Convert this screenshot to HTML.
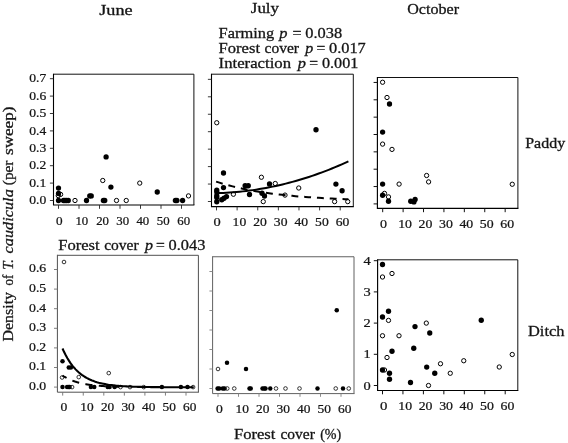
<!DOCTYPE html>
<html><head><meta charset="utf-8"><title>Figure</title>
<style>
html,body{margin:0;padding:0;background:#fff;}
svg{display:block;}
text{font-family:"Liberation Serif", serif;fill:#151515;stroke:#151515;stroke-width:0.28px;}
text.s{stroke-width:0.24px;}
</style></head><body>
<svg width="568" height="443" viewBox="0 0 568 443">
<rect width="568" height="443" fill="#fff"/>
<text x="99.20" y="14.50" font-size="13.8" textLength="33.40" lengthAdjust="spacingAndGlyphs">June</text>
<text x="250.80" y="12.50" font-size="13.8" textLength="28.20" lengthAdjust="spacingAndGlyphs">July</text>
<text x="407.20" y="14.20" font-size="13.8" textLength="51.80" lengthAdjust="spacingAndGlyphs">October</text>
<text x="218.60" y="37.60" font-size="14" textLength="55.60" lengthAdjust="spacingAndGlyphs">Farming</text>
<text x="279.20" y="37.60" font-size="14" textLength="8.20" lengthAdjust="spacingAndGlyphs" font-style="italic">p</text>
<text x="292.60" y="37.60" font-size="14" textLength="9.00" lengthAdjust="spacingAndGlyphs">=</text>
<text x="305.30" y="37.60" font-size="14" textLength="36.90" lengthAdjust="spacingAndGlyphs">0.038</text>
<text x="218.60" y="52.70" font-size="14" textLength="41.40" lengthAdjust="spacingAndGlyphs">Forest</text>
<text x="264.60" y="52.70" font-size="14" textLength="34.40" lengthAdjust="spacingAndGlyphs">cover</text>
<text x="305.30" y="52.70" font-size="14" textLength="8.00" lengthAdjust="spacingAndGlyphs" font-style="italic">p</text>
<text x="316.40" y="52.70" font-size="14" textLength="8.80" lengthAdjust="spacingAndGlyphs">=</text>
<text x="329.00" y="52.70" font-size="14" textLength="36.80" lengthAdjust="spacingAndGlyphs">0.017</text>
<text x="218.60" y="68.30" font-size="14" textLength="72.40" lengthAdjust="spacingAndGlyphs">Interaction</text>
<text x="297.70" y="68.30" font-size="14" textLength="8.20" lengthAdjust="spacingAndGlyphs" font-style="italic">p</text>
<text x="309.20" y="68.30" font-size="14" textLength="8.80" lengthAdjust="spacingAndGlyphs">=</text>
<text x="322.00" y="68.30" font-size="14" textLength="36.30" lengthAdjust="spacingAndGlyphs">0.001</text>
<text x="58.20" y="250.40" font-size="14" textLength="41.40" lengthAdjust="spacingAndGlyphs">Forest</text>
<text x="104.20" y="250.40" font-size="14" textLength="34.40" lengthAdjust="spacingAndGlyphs">cover</text>
<text x="144.90" y="250.40" font-size="14" textLength="8.00" lengthAdjust="spacingAndGlyphs" font-style="italic">p</text>
<text x="156.00" y="250.40" font-size="14" textLength="8.80" lengthAdjust="spacingAndGlyphs">=</text>
<text x="168.60" y="250.40" font-size="14" textLength="36.80" lengthAdjust="spacingAndGlyphs">0.043</text>
<text x="234.00" y="438.60" font-size="14" textLength="41.40" lengthAdjust="spacingAndGlyphs">Forest</text>
<text x="280.40" y="438.60" font-size="14" textLength="34.40" lengthAdjust="spacingAndGlyphs">cover</text>
<text x="320.20" y="438.60" font-size="14" textLength="21.10" lengthAdjust="spacingAndGlyphs">(%)</text>
<text x="525.20" y="148.30" font-size="14" textLength="40.00" lengthAdjust="spacingAndGlyphs">Paddy</text>
<text x="528.00" y="336.00" font-size="14" textLength="36.50" lengthAdjust="spacingAndGlyphs">Ditch</text>
<g transform="translate(12.6 341.2) rotate(-90)">
<text x="-0.40" y="0.00" font-size="14" textLength="49.70" lengthAdjust="spacingAndGlyphs">Density</text>
<text x="55.80" y="0.00" font-size="14" textLength="10.80" lengthAdjust="spacingAndGlyphs">of</text>
<text x="71.40" y="0.00" font-size="14" textLength="10.80" lengthAdjust="spacingAndGlyphs" font-style="italic">T.</text>
<text x="87.80" y="0.00" font-size="14" textLength="64.20" lengthAdjust="spacingAndGlyphs" font-style="italic">caudicula</text>
<text x="156.00" y="0.00" font-size="14" textLength="24.60" lengthAdjust="spacingAndGlyphs">(per</text>
<text x="186.30" y="0.00" font-size="14" textLength="48.30" lengthAdjust="spacingAndGlyphs">sweep)</text>
</g>
<path d="M53.50 74.20H193.90V205.00" fill="none" stroke="#111" stroke-width="1.0"/>
<path d="M53.50 73.70V205.00H194.40" fill="none" stroke="#000" stroke-width="1.1"/>
<path d="M53.50 200.50h-3.6 M53.50 183.10h-3.6 M53.50 165.70h-3.6 M53.50 148.30h-3.6 M53.50 130.90h-3.6 M53.50 113.50h-3.6 M53.50 96.10h-3.6 M53.50 78.70h-3.6" stroke="#222" stroke-width="0.9" fill="none"/>
<text x="29.20" y="204.20" font-size="12.5" textLength="17.00" lengthAdjust="spacingAndGlyphs" class="s">0.0</text>
<text x="29.20" y="186.80" font-size="12.5" textLength="17.00" lengthAdjust="spacingAndGlyphs" class="s">0.1</text>
<text x="29.20" y="169.40" font-size="12.5" textLength="17.00" lengthAdjust="spacingAndGlyphs" class="s">0.2</text>
<text x="29.20" y="152.00" font-size="12.5" textLength="17.00" lengthAdjust="spacingAndGlyphs" class="s">0.3</text>
<text x="29.20" y="134.60" font-size="12.5" textLength="17.00" lengthAdjust="spacingAndGlyphs" class="s">0.4</text>
<text x="29.20" y="117.20" font-size="12.5" textLength="17.00" lengthAdjust="spacingAndGlyphs" class="s">0.5</text>
<text x="29.20" y="99.80" font-size="12.5" textLength="17.00" lengthAdjust="spacingAndGlyphs" class="s">0.6</text>
<text x="29.20" y="82.40" font-size="12.5" textLength="17.00" lengthAdjust="spacingAndGlyphs" class="s">0.7</text>
<path d="M58.50 205.00v3.8 M79.00 205.00v3.8 M99.50 205.00v3.8 M120.00 205.00v3.8 M140.50 205.00v3.8 M161.00 205.00v3.8 M181.50 205.00v3.8" stroke="#222" stroke-width="0.9" fill="none"/>
<text x="56.00" y="225.00" font-size="12.5" textLength="6.60" lengthAdjust="spacingAndGlyphs" class="s">0</text>
<text x="75.40" y="225.00" font-size="12.5" textLength="12.80" lengthAdjust="spacingAndGlyphs" class="s">10</text>
<text x="96.20" y="225.00" font-size="12.5" textLength="12.80" lengthAdjust="spacingAndGlyphs" class="s">20</text>
<text x="116.30" y="225.00" font-size="12.5" textLength="12.80" lengthAdjust="spacingAndGlyphs" class="s">30</text>
<text x="136.40" y="225.00" font-size="12.5" textLength="12.80" lengthAdjust="spacingAndGlyphs" class="s">40</text>
<text x="156.80" y="225.00" font-size="12.5" textLength="12.80" lengthAdjust="spacingAndGlyphs" class="s">50</text>
<text x="177.30" y="225.00" font-size="12.5" textLength="12.80" lengthAdjust="spacingAndGlyphs" class="s">60</text>
<circle cx="106.10" cy="156.90" r="2.65" fill="#000"/>
<circle cx="102.75" cy="180.50" r="2.15" fill="none" stroke="#000" stroke-width="1.0"/>
<circle cx="110.90" cy="187.10" r="2.65" fill="#000"/>
<circle cx="58.50" cy="188.10" r="2.65" fill="#000"/>
<circle cx="58.50" cy="193.50" r="2.65" fill="#000"/>
<circle cx="58.25" cy="195.60" r="2.15" fill="none" stroke="#000" stroke-width="1.0"/>
<circle cx="60.60" cy="194.40" r="2.15" fill="none" stroke="#000" stroke-width="1.0"/>
<circle cx="89.75" cy="195.90" r="2.65" fill="#000"/>
<circle cx="91.25" cy="195.90" r="2.65" fill="#000"/>
<circle cx="58.50" cy="200.50" r="2.65" fill="#000"/>
<circle cx="63.50" cy="200.50" r="2.65" fill="#000"/>
<circle cx="65.00" cy="200.50" r="2.65" fill="#000"/>
<circle cx="66.60" cy="200.50" r="2.65" fill="#000"/>
<circle cx="68.25" cy="200.50" r="2.65" fill="#000"/>
<circle cx="75.00" cy="200.50" r="2.15" fill="none" stroke="#000" stroke-width="1.0"/>
<circle cx="86.50" cy="200.50" r="2.65" fill="#000"/>
<circle cx="103.40" cy="200.50" r="2.65" fill="#000"/>
<circle cx="104.75" cy="200.50" r="2.65" fill="#000"/>
<circle cx="116.50" cy="200.50" r="2.15" fill="none" stroke="#000" stroke-width="1.0"/>
<circle cx="126.25" cy="200.50" r="2.15" fill="none" stroke="#000" stroke-width="1.0"/>
<circle cx="139.75" cy="183.10" r="2.15" fill="none" stroke="#000" stroke-width="1.0"/>
<circle cx="157.25" cy="192.00" r="2.65" fill="#000"/>
<circle cx="175.40" cy="200.50" r="2.65" fill="#000"/>
<circle cx="176.90" cy="200.50" r="2.65" fill="#000"/>
<circle cx="182.60" cy="200.50" r="2.65" fill="#000"/>
<circle cx="188.50" cy="195.90" r="2.15" fill="none" stroke="#000" stroke-width="1.0"/>
<path d="M211.50 74.20H353.30V206.60" fill="none" stroke="#111" stroke-width="1.0"/>
<path d="M211.50 73.70V206.60H353.80" fill="none" stroke="#000" stroke-width="1.1"/>
<path d="M211.50 201.50h-3.6 M211.50 184.05h-3.6 M211.50 166.60h-3.6 M211.50 149.15h-3.6 M211.50 131.70h-3.6 M211.50 114.25h-3.6 M211.50 96.80h-3.6 M211.50 79.35h-3.6" stroke="#222" stroke-width="0.9" fill="none"/>
<path d="M216.50 206.60v3.8 M237.12 206.60v3.8 M257.74 206.60v3.8 M278.36 206.60v3.8 M298.98 206.60v3.8 M319.60 206.60v3.8 M340.22 206.60v3.8" stroke="#222" stroke-width="0.9" fill="none"/>
<text x="213.60" y="226.00" font-size="12.5" textLength="7.20" lengthAdjust="spacingAndGlyphs" class="s">0</text>
<text x="232.62" y="226.00" font-size="12.5" textLength="13.60" lengthAdjust="spacingAndGlyphs" class="s">10</text>
<text x="253.24" y="226.00" font-size="12.5" textLength="13.60" lengthAdjust="spacingAndGlyphs" class="s">20</text>
<text x="273.86" y="226.00" font-size="12.5" textLength="13.60" lengthAdjust="spacingAndGlyphs" class="s">30</text>
<text x="294.48" y="226.00" font-size="12.5" textLength="13.60" lengthAdjust="spacingAndGlyphs" class="s">40</text>
<text x="315.10" y="226.00" font-size="12.5" textLength="13.60" lengthAdjust="spacingAndGlyphs" class="s">50</text>
<text x="335.72" y="226.00" font-size="12.5" textLength="13.60" lengthAdjust="spacingAndGlyphs" class="s">60</text>
<circle cx="223.50" cy="173.00" r="2.65" fill="#000"/>
<circle cx="261.40" cy="177.25" r="2.15" fill="none" stroke="#000" stroke-width="1.0"/>
<circle cx="269.50" cy="183.90" r="2.65" fill="#000"/>
<circle cx="275.25" cy="183.50" r="2.15" fill="none" stroke="#000" stroke-width="1.0"/>
<circle cx="245.10" cy="185.75" r="2.65" fill="#000"/>
<circle cx="248.25" cy="185.75" r="2.65" fill="#000"/>
<circle cx="223.50" cy="187.60" r="2.65" fill="#000"/>
<circle cx="216.75" cy="190.10" r="2.65" fill="#000"/>
<circle cx="216.75" cy="192.00" r="2.65" fill="#000"/>
<circle cx="249.50" cy="194.50" r="2.65" fill="#000"/>
<circle cx="233.40" cy="194.25" r="2.15" fill="none" stroke="#000" stroke-width="1.0"/>
<circle cx="262.00" cy="193.25" r="2.65" fill="#000"/>
<circle cx="264.50" cy="196.00" r="2.65" fill="#000"/>
<circle cx="216.75" cy="195.75" r="2.65" fill="#000"/>
<circle cx="216.75" cy="197.60" r="2.65" fill="#000"/>
<circle cx="226.50" cy="196.60" r="2.65" fill="#000"/>
<circle cx="224.00" cy="198.25" r="2.65" fill="#000"/>
<circle cx="221.75" cy="199.75" r="2.65" fill="#000"/>
<circle cx="216.75" cy="201.75" r="2.65" fill="#000"/>
<circle cx="263.25" cy="201.60" r="2.15" fill="none" stroke="#000" stroke-width="1.0"/>
<circle cx="298.75" cy="188.00" r="2.15" fill="none" stroke="#000" stroke-width="1.0"/>
<circle cx="285.00" cy="195.10" r="2.15" fill="none" stroke="#000" stroke-width="1.0"/>
<circle cx="335.90" cy="184.10" r="2.65" fill="#000"/>
<circle cx="342.10" cy="190.75" r="2.65" fill="#000"/>
<circle cx="334.60" cy="201.60" r="2.15" fill="none" stroke="#000" stroke-width="1.0"/>
<circle cx="347.75" cy="201.60" r="2.15" fill="none" stroke="#000" stroke-width="1.0"/>
<circle cx="216.75" cy="122.75" r="2.15" fill="none" stroke="#000" stroke-width="1.0"/>
<circle cx="316.00" cy="129.75" r="2.65" fill="#000"/>
<path d="M216.50 193.18 L219.80 193.08 L223.09 192.94 L226.39 192.77 L229.69 192.57 L232.99 192.32 L236.28 192.04 L239.58 191.73 L242.88 191.38 L246.18 191.00 L249.47 190.58 L252.77 190.12 L256.07 189.63 L259.37 189.10 L262.66 188.54 L265.96 187.94 L269.26 187.31 L272.56 186.64 L275.86 185.93 L279.15 185.19 L282.45 184.42 L285.75 183.60 L289.04 182.76 L292.34 181.87 L295.64 180.96 L298.94 180.00 L302.24 179.01 L305.53 177.99 L308.83 176.93 L312.13 175.83 L315.42 174.70 L318.72 173.53 L322.02 172.33 L325.32 171.09 L328.62 169.81 L331.91 168.50 L335.21 167.16 L338.51 165.78 L341.80 164.36 L345.10 162.91 L348.40 161.42" stroke="#000" stroke-width="2" fill="none"/>
<path d="M216.10 181.62 L219.41 182.67 L222.72 183.68 L226.02 184.62 L229.33 185.52 L232.64 186.37 L235.94 187.18 L239.25 187.94 L242.56 188.66 L245.87 189.35 L249.17 189.99 L252.48 190.61 L255.79 191.19 L259.10 191.73 L262.40 192.25 L265.71 192.75 L269.02 193.21 L272.33 193.65 L275.63 194.07 L278.94 194.47 L282.25 194.84 L285.56 195.20 L288.87 195.53 L292.17 195.85 L295.48 196.15 L298.79 196.43 L302.09 196.70 L305.40 196.96 L308.71 197.20 L312.02 197.43 L315.32 197.65 L318.63 197.85 L321.94 198.05 L325.25 198.23 L328.56 198.40 L331.86 198.57 L335.17 198.72 L338.48 198.87 L341.78 199.01 L345.09 199.14 L348.40 199.27" stroke="#000" stroke-width="2" fill="none" stroke-dasharray="6.9 5.9"/>
<path d="M377.40 77.50H517.90V208.40" fill="none" stroke="#111" stroke-width="1.0"/>
<path d="M377.40 77.00V208.40H518.40" fill="none" stroke="#000" stroke-width="1.15"/>
<path d="M377.40 203.90h-3.8 M377.40 186.55h-3.8 M377.40 169.20h-3.8 M377.40 151.85h-3.8 M377.40 134.50h-3.8 M377.40 117.15h-3.8 M377.40 99.80h-3.8 M377.40 82.45h-3.8" stroke="#111" stroke-width="1.0" fill="none"/>
<path d="M382.70 208.40v3.8 M403.11 208.40v3.8 M423.52 208.40v3.8 M443.93 208.40v3.8 M464.34 208.40v3.8 M484.75 208.40v3.8 M505.16 208.40v3.8" stroke="#111" stroke-width="1.0" fill="none"/>
<text x="380.00" y="228.00" font-size="12.5" textLength="7.00" lengthAdjust="spacingAndGlyphs" class="s">0</text>
<text x="398.21" y="228.00" font-size="12.5" textLength="13.80" lengthAdjust="spacingAndGlyphs" class="s">10</text>
<text x="418.62" y="228.00" font-size="12.5" textLength="13.80" lengthAdjust="spacingAndGlyphs" class="s">20</text>
<text x="439.03" y="228.00" font-size="12.5" textLength="13.80" lengthAdjust="spacingAndGlyphs" class="s">30</text>
<text x="459.44" y="228.00" font-size="12.5" textLength="13.80" lengthAdjust="spacingAndGlyphs" class="s">40</text>
<text x="479.85" y="228.00" font-size="12.5" textLength="13.80" lengthAdjust="spacingAndGlyphs" class="s">50</text>
<text x="500.26" y="228.00" font-size="12.5" textLength="13.80" lengthAdjust="spacingAndGlyphs" class="s">60</text>
<circle cx="382.60" cy="82.25" r="2.15" fill="none" stroke="#000" stroke-width="1.0"/>
<circle cx="387.00" cy="97.50" r="2.15" fill="none" stroke="#000" stroke-width="1.0"/>
<circle cx="389.50" cy="104.00" r="2.65" fill="#000"/>
<circle cx="382.60" cy="132.10" r="2.65" fill="#000"/>
<circle cx="382.60" cy="144.10" r="2.15" fill="none" stroke="#000" stroke-width="1.0"/>
<circle cx="392.00" cy="149.40" r="2.15" fill="none" stroke="#000" stroke-width="1.0"/>
<circle cx="426.60" cy="175.50" r="2.15" fill="none" stroke="#000" stroke-width="1.0"/>
<circle cx="428.60" cy="181.90" r="2.15" fill="none" stroke="#000" stroke-width="1.0"/>
<circle cx="382.60" cy="184.10" r="2.65" fill="#000"/>
<circle cx="399.10" cy="184.10" r="2.15" fill="none" stroke="#000" stroke-width="1.0"/>
<circle cx="384.50" cy="193.40" r="2.15" fill="none" stroke="#000" stroke-width="1.0"/>
<circle cx="382.60" cy="195.25" r="2.65" fill="#000"/>
<circle cx="388.50" cy="196.90" r="2.15" fill="none" stroke="#000" stroke-width="1.0"/>
<circle cx="388.50" cy="201.25" r="2.65" fill="#000"/>
<circle cx="410.75" cy="201.25" r="2.65" fill="#000"/>
<circle cx="413.90" cy="201.90" r="2.65" fill="#000"/>
<circle cx="415.10" cy="199.40" r="2.65" fill="#000"/>
<circle cx="512.25" cy="184.25" r="2.15" fill="none" stroke="#000" stroke-width="1.0"/>
<path d="M57.40 255.30H198.40V392.20" fill="none" stroke="#505050" stroke-width="1.0"/>
<path d="M57.40 254.80V392.20H198.90" fill="none" stroke="#505050" stroke-width="1.0"/>
<path d="M57.40 387.10h-3.4 M57.40 367.50h-3.4 M57.40 347.90h-3.4 M57.40 328.30h-3.4 M57.40 308.70h-3.4 M57.40 289.10h-3.4 M57.40 269.50h-3.4" stroke="#707070" stroke-width="0.9" fill="none"/>
<text x="29.00" y="390.00" font-size="12.5" textLength="17.20" lengthAdjust="spacingAndGlyphs" class="s">0.0</text>
<text x="29.00" y="370.40" font-size="12.5" textLength="17.20" lengthAdjust="spacingAndGlyphs" class="s">0.1</text>
<text x="29.00" y="350.80" font-size="12.5" textLength="17.20" lengthAdjust="spacingAndGlyphs" class="s">0.2</text>
<text x="29.00" y="331.20" font-size="12.5" textLength="17.20" lengthAdjust="spacingAndGlyphs" class="s">0.3</text>
<text x="29.00" y="311.60" font-size="12.5" textLength="17.20" lengthAdjust="spacingAndGlyphs" class="s">0.4</text>
<text x="29.00" y="292.00" font-size="12.5" textLength="17.20" lengthAdjust="spacingAndGlyphs" class="s">0.5</text>
<text x="29.00" y="272.40" font-size="12.5" textLength="17.20" lengthAdjust="spacingAndGlyphs" class="s">0.6</text>
<path d="M62.70 392.20v3.4 M83.25 392.20v3.4 M103.80 392.20v3.4 M124.35 392.20v3.4 M144.90 392.20v3.4 M165.45 392.20v3.4 M186.00 392.20v3.4" stroke="#707070" stroke-width="0.9" fill="none"/>
<text x="60.40" y="410.50" font-size="12.5" textLength="6.80" lengthAdjust="spacingAndGlyphs" class="s">0</text>
<text x="80.35" y="410.50" font-size="12.5" textLength="13.30" lengthAdjust="spacingAndGlyphs" class="s">10</text>
<text x="100.90" y="410.50" font-size="12.5" textLength="13.30" lengthAdjust="spacingAndGlyphs" class="s">20</text>
<text x="121.45" y="410.50" font-size="12.5" textLength="13.30" lengthAdjust="spacingAndGlyphs" class="s">30</text>
<text x="142.00" y="410.50" font-size="12.5" textLength="13.30" lengthAdjust="spacingAndGlyphs" class="s">40</text>
<text x="162.55" y="410.50" font-size="12.5" textLength="13.30" lengthAdjust="spacingAndGlyphs" class="s">50</text>
<text x="183.10" y="410.50" font-size="12.5" textLength="13.30" lengthAdjust="spacingAndGlyphs" class="s">60</text>
<circle cx="64.00" cy="262.00" r="1.82" fill="none" stroke="#111" stroke-width="0.85"/>
<circle cx="62.50" cy="361.25" r="2.25" fill="#000"/>
<circle cx="68.75" cy="367.50" r="2.25" fill="#000"/>
<circle cx="70.90" cy="367.50" r="2.25" fill="#000"/>
<circle cx="62.10" cy="377.50" r="1.82" fill="none" stroke="#111" stroke-width="0.85"/>
<circle cx="78.75" cy="377.10" r="1.82" fill="none" stroke="#111" stroke-width="0.85"/>
<circle cx="108.75" cy="373.10" r="1.82" fill="none" stroke="#111" stroke-width="0.85"/>
<circle cx="62.50" cy="387.10" r="2.25" fill="#000"/>
<circle cx="67.10" cy="387.10" r="2.25" fill="#000"/>
<circle cx="68.75" cy="387.10" r="2.25" fill="#000"/>
<circle cx="69.60" cy="387.10" r="2.25" fill="#000"/>
<circle cx="72.10" cy="387.10" r="1.82" fill="none" stroke="#111" stroke-width="0.85"/>
<circle cx="90.90" cy="387.10" r="2.25" fill="#000"/>
<circle cx="94.25" cy="387.10" r="2.25" fill="#000"/>
<circle cx="107.75" cy="387.10" r="2.25" fill="#000"/>
<circle cx="109.60" cy="387.10" r="2.25" fill="#000"/>
<circle cx="114.60" cy="387.10" r="2.25" fill="#000"/>
<circle cx="120.50" cy="387.10" r="1.82" fill="none" stroke="#111" stroke-width="0.85"/>
<circle cx="130.00" cy="387.10" r="1.82" fill="none" stroke="#111" stroke-width="0.85"/>
<circle cx="143.75" cy="387.10" r="1.82" fill="none" stroke="#111" stroke-width="0.85"/>
<circle cx="161.90" cy="387.10" r="2.25" fill="#000"/>
<circle cx="180.90" cy="387.10" r="2.25" fill="#000"/>
<circle cx="187.50" cy="387.10" r="2.25" fill="#000"/>
<circle cx="193.10" cy="387.10" r="1.82" fill="none" stroke="#111" stroke-width="0.85"/>
<path d="M62.50 348.50 L64.14 352.07 L65.78 355.31 L67.42 358.25 L69.06 360.92 L70.70 363.35 L72.34 365.55 L73.98 367.55 L75.62 369.37 L77.27 371.02 L78.91 372.51 L80.55 373.87 L82.19 375.11 L83.83 376.23 L85.47 377.25 L87.11 378.17 L88.75 379.01 L90.39 379.77 L92.03 380.47 L93.67 381.09 L95.31 381.66 L96.95 382.18 L98.59 382.65 L100.23 383.08 L101.88 383.47 L103.52 383.82 L105.16 384.14 L106.80 384.43 L108.44 384.70 L110.08 384.93 L111.72 385.15 L113.36 385.35 L115.00 385.53 L116.64 385.69 L118.28 385.84 L119.92 385.97 L121.56 386.10 L123.20 386.21 L124.84 386.31 L126.48 386.40 L128.12 386.48 L129.77 386.56 L131.41 386.63 L133.05 386.69 L134.69 386.74 L136.33 386.79 L137.97 386.84 L139.61 386.88 L141.25 386.92 L142.89 386.96 L144.53 386.99 L146.17 387.02 L147.81 387.04 L149.45 387.07 L151.09 387.09 L152.73 387.11 L154.38 387.13 L156.02 387.14 L157.66 387.16 L159.30 387.17 L160.94 387.18 L162.58 387.19 L164.22 387.20 L165.86 387.21 L167.50 387.22 L169.14 387.23 L170.78 387.23 L172.42 387.24 L174.06 387.25 L175.70 387.25 L177.34 387.25 L178.98 387.26 L180.62 387.26 L182.27 387.27 L183.91 387.27 L185.55 387.27 L187.19 387.27 L188.83 387.28 L190.47 387.28 L192.11 387.28 L193.75 387.28" stroke="#000" stroke-width="2.1" fill="none"/>
<path d="M62.50 375.60 L64.06 376.58 L65.62 377.48 L67.19 378.30 L68.75 379.06 L70.31 379.75 L71.88 380.38 L73.44 380.96 L75.00 381.49 L76.56 381.98 L78.12 382.42 L79.69 382.83 L81.25 383.21 L82.81 383.55 L84.38 383.86 L85.94 384.15 L87.50 384.41 L89.06 384.66 L90.62 384.88 L92.19 385.08 L93.75 385.27 L95.31 385.44 L96.88 385.59 L98.44 385.74 L100.00 385.87 L101.56 385.99 L103.12 386.10 L104.69 386.20 L106.25 386.29 L107.81 386.37 L109.38 386.45 L110.94 386.52 L112.50 386.59 L114.06 386.65 L115.62 386.70 L117.19 386.75 L118.75 386.80 L120.31 386.84 L121.88 386.88 L123.44 386.91 L125.00 386.95" stroke="#000" stroke-width="2" fill="none" stroke-dasharray="7.1 6.4" stroke-dashoffset="2.4"/>
<path d="M212.60 256.75H354.00V393.60" fill="none" stroke="#606060" stroke-width="1.0"/>
<path d="M212.60 256.25V393.60H354.50" fill="none" stroke="#606060" stroke-width="1.0"/>
<path d="M212.60 388.50h-3.2 M212.60 369.00h-3.2 M212.60 349.50h-3.2 M212.60 330.00h-3.2 M212.60 310.50h-3.2 M212.60 291.00h-3.2 M212.60 271.50h-3.2" stroke="#808080" stroke-width="0.9" fill="none"/>
<path d="M218.00 393.60v3.2 M238.50 393.60v3.2 M259.00 393.60v3.2 M279.50 393.60v3.2 M300.00 393.60v3.2 M320.50 393.60v3.2 M341.00 393.60v3.2" stroke="#808080" stroke-width="0.9" fill="none"/>
<text x="216.10" y="412.50" font-size="12.5" textLength="6.80" lengthAdjust="spacingAndGlyphs" class="s">0</text>
<text x="235.60" y="412.50" font-size="12.5" textLength="13.40" lengthAdjust="spacingAndGlyphs" class="s">10</text>
<text x="256.10" y="412.50" font-size="12.5" textLength="13.40" lengthAdjust="spacingAndGlyphs" class="s">20</text>
<text x="276.60" y="412.50" font-size="12.5" textLength="13.40" lengthAdjust="spacingAndGlyphs" class="s">30</text>
<text x="297.10" y="412.50" font-size="12.5" textLength="13.40" lengthAdjust="spacingAndGlyphs" class="s">40</text>
<text x="317.60" y="412.50" font-size="12.5" textLength="13.40" lengthAdjust="spacingAndGlyphs" class="s">50</text>
<text x="338.10" y="412.50" font-size="12.5" textLength="13.40" lengthAdjust="spacingAndGlyphs" class="s">60</text>
<circle cx="218.00" cy="369.00" r="1.82" fill="none" stroke="#111" stroke-width="0.85"/>
<circle cx="227.00" cy="362.75" r="2.25" fill="#000"/>
<circle cx="246.00" cy="369.00" r="2.25" fill="#000"/>
<circle cx="217.60" cy="388.50" r="2.25" fill="#000"/>
<circle cx="219.20" cy="388.50" r="2.25" fill="#000"/>
<circle cx="222.75" cy="388.50" r="2.25" fill="#000"/>
<circle cx="224.50" cy="388.50" r="2.25" fill="#000"/>
<circle cx="227.25" cy="388.50" r="1.82" fill="none" stroke="#111" stroke-width="0.85"/>
<circle cx="234.25" cy="388.50" r="1.82" fill="none" stroke="#111" stroke-width="0.85"/>
<circle cx="249.50" cy="388.50" r="2.25" fill="#000"/>
<circle cx="250.75" cy="388.50" r="2.25" fill="#000"/>
<circle cx="262.50" cy="388.50" r="2.25" fill="#000"/>
<circle cx="264.25" cy="388.50" r="2.25" fill="#000"/>
<circle cx="265.50" cy="388.50" r="2.25" fill="#000"/>
<circle cx="270.25" cy="388.50" r="2.25" fill="#000"/>
<circle cx="276.00" cy="388.50" r="1.82" fill="none" stroke="#111" stroke-width="0.85"/>
<circle cx="285.50" cy="388.50" r="1.82" fill="none" stroke="#111" stroke-width="0.85"/>
<circle cx="299.50" cy="388.50" r="1.82" fill="none" stroke="#111" stroke-width="0.85"/>
<circle cx="317.50" cy="388.50" r="2.25" fill="#000"/>
<circle cx="335.75" cy="388.50" r="1.82" fill="none" stroke="#111" stroke-width="0.85"/>
<circle cx="343.00" cy="388.50" r="2.25" fill="#000"/>
<circle cx="348.75" cy="388.50" r="1.82" fill="none" stroke="#111" stroke-width="0.85"/>
<circle cx="336.75" cy="310.25" r="2.25" fill="#000"/>
<path d="M377.60 259.80H517.80V390.50" fill="none" stroke="#111" stroke-width="1.0"/>
<path d="M377.60 259.30V390.50H518.30" fill="none" stroke="#000" stroke-width="1.15"/>
<path d="M377.60 385.50h-3.8 M377.60 354.30h-3.8 M377.60 323.10h-3.8 M377.60 291.90h-3.8 M377.60 260.70h-3.8" stroke="#111" stroke-width="1.0" fill="none"/>
<text x="363.60" y="389.50" font-size="12.5" textLength="7.20" lengthAdjust="spacingAndGlyphs" class="s">0</text>
<text x="363.60" y="358.30" font-size="12.5" textLength="7.20" lengthAdjust="spacingAndGlyphs" class="s">1</text>
<text x="363.60" y="327.10" font-size="12.5" textLength="7.20" lengthAdjust="spacingAndGlyphs" class="s">2</text>
<text x="363.60" y="295.90" font-size="12.5" textLength="7.20" lengthAdjust="spacingAndGlyphs" class="s">3</text>
<text x="363.60" y="264.70" font-size="12.5" textLength="7.20" lengthAdjust="spacingAndGlyphs" class="s">4</text>
<path d="M382.50 390.50v3.8 M402.95 390.50v3.8 M423.40 390.50v3.8 M443.85 390.50v3.8 M464.30 390.50v3.8 M484.75 390.50v3.8 M505.20 390.50v3.8" stroke="#111" stroke-width="1.0" fill="none"/>
<text x="380.00" y="410.00" font-size="12.5" textLength="7.40" lengthAdjust="spacingAndGlyphs" class="s">0</text>
<text x="398.25" y="410.00" font-size="12.5" textLength="13.80" lengthAdjust="spacingAndGlyphs" class="s">10</text>
<text x="418.70" y="410.00" font-size="12.5" textLength="13.80" lengthAdjust="spacingAndGlyphs" class="s">20</text>
<text x="439.15" y="410.00" font-size="12.5" textLength="13.80" lengthAdjust="spacingAndGlyphs" class="s">30</text>
<text x="459.60" y="410.00" font-size="12.5" textLength="13.80" lengthAdjust="spacingAndGlyphs" class="s">40</text>
<text x="480.05" y="410.00" font-size="12.5" textLength="13.80" lengthAdjust="spacingAndGlyphs" class="s">50</text>
<text x="500.50" y="410.00" font-size="12.5" textLength="13.80" lengthAdjust="spacingAndGlyphs" class="s">60</text>
<circle cx="382.50" cy="264.50" r="2.65" fill="#000"/>
<circle cx="382.50" cy="277.00" r="2.15" fill="none" stroke="#000" stroke-width="1.0"/>
<circle cx="392.00" cy="273.50" r="2.15" fill="none" stroke="#000" stroke-width="1.0"/>
<circle cx="388.50" cy="311.25" r="2.65" fill="#000"/>
<circle cx="382.50" cy="317.00" r="2.65" fill="#000"/>
<circle cx="388.50" cy="320.40" r="2.15" fill="none" stroke="#000" stroke-width="1.0"/>
<circle cx="415.00" cy="326.60" r="2.65" fill="#000"/>
<circle cx="426.30" cy="323.10" r="2.15" fill="none" stroke="#000" stroke-width="1.0"/>
<circle cx="382.50" cy="335.75" r="2.15" fill="none" stroke="#000" stroke-width="1.0"/>
<circle cx="399.00" cy="335.75" r="2.15" fill="none" stroke="#000" stroke-width="1.0"/>
<circle cx="413.75" cy="348.25" r="2.65" fill="#000"/>
<circle cx="392.00" cy="351.25" r="2.65" fill="#000"/>
<circle cx="387.00" cy="357.50" r="2.15" fill="none" stroke="#000" stroke-width="1.0"/>
<circle cx="426.70" cy="367.10" r="2.65" fill="#000"/>
<circle cx="382.50" cy="370.00" r="2.65" fill="#000"/>
<circle cx="384.50" cy="370.00" r="2.15" fill="none" stroke="#000" stroke-width="1.0"/>
<circle cx="389.50" cy="373.25" r="2.65" fill="#000"/>
<circle cx="389.50" cy="379.25" r="2.65" fill="#000"/>
<circle cx="410.50" cy="382.50" r="2.65" fill="#000"/>
<circle cx="481.25" cy="320.25" r="2.65" fill="#000"/>
<circle cx="429.75" cy="333.00" r="2.65" fill="#000"/>
<circle cx="512.25" cy="354.50" r="2.15" fill="none" stroke="#000" stroke-width="1.0"/>
<circle cx="463.75" cy="360.75" r="2.15" fill="none" stroke="#000" stroke-width="1.0"/>
<circle cx="440.50" cy="363.75" r="2.15" fill="none" stroke="#000" stroke-width="1.0"/>
<circle cx="499.25" cy="367.00" r="2.15" fill="none" stroke="#000" stroke-width="1.0"/>
<circle cx="434.75" cy="373.25" r="2.65" fill="#000"/>
<circle cx="450.25" cy="373.25" r="2.15" fill="none" stroke="#000" stroke-width="1.0"/>
<circle cx="428.50" cy="385.50" r="2.15" fill="none" stroke="#000" stroke-width="1.0"/>
</svg>
</body></html>
